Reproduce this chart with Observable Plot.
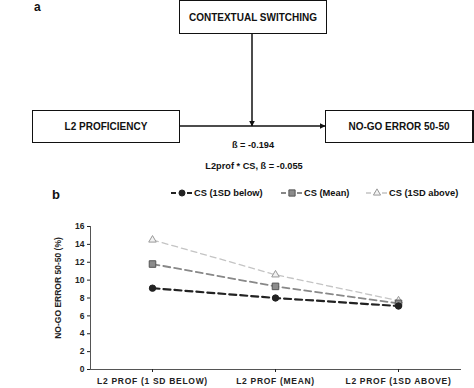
<!DOCTYPE html>
<html><head><meta charset="utf-8">
<script src="https://cdn.jsdelivr.net/npm/d3@7"></script>
<script src="https://cdn.jsdelivr.net/npm/@observablehq/plot@0.6"></script>
<style>
body{margin:0;background:#fff;font-family:"Liberation Sans",Arial,sans-serif;}
#wrap{position:relative;width:474px;height:388px;overflow:hidden;background:#fff;}
.box{position:absolute;box-sizing:border-box;border:1.5px solid #111;display:flex;align-items:center;justify-content:center;font-weight:bold;font-size:10px;color:#111;}
.lbl{position:absolute;font-weight:bold;color:#111;white-space:nowrap;line-height:1;}
.ctr{transform:translateX(-50%);}
.leg{position:absolute;top:186px;display:flex;align-items:center;height:13px;font-weight:bold;font-size:9.3px;color:#111;white-space:nowrap;}
.leg svg{margin-right:1px;}
#chart{position:absolute;left:0;top:200px;}
#chart g[aria-label="x-axis tick label"] text{letter-spacing:0.7px;}
</style>
</head><body>
<div id="wrap">
  <div class="lbl" style="left:34px;top:1px;font-size:12px;">a</div>
  <div class="box" style="left:179px;top:-1px;width:148px;height:35px;border-top-width:2.5px;">CONTEXTUAL SWITCHING</div>
  <div class="box" style="left:32px;top:110px;width:148px;height:33px;">L2 PROFICIENCY</div>
  <div class="box" style="left:325px;top:110px;width:149px;height:33px;border-right-width:2.5px;">NO-GO ERROR 50-50</div>
  <svg style="position:absolute;left:0;top:0" width="474" height="190">
    <defs>
      <marker id="ah" viewBox="0 0 10 10" refX="9" refY="5" markerWidth="4" markerHeight="4" orient="auto">
        <path d="M0,0 L10,5 L0,10 z" fill="#111"/>
      </marker>
    </defs>
    <line x1="180" y1="126" x2="325" y2="126" stroke="#111" stroke-width="1.5" marker-end="url(#ah)"/>
    <line x1="252" y1="34" x2="252" y2="126" stroke="#111" stroke-width="1.5" marker-end="url(#ah)"/>
  </svg>
  <div class="lbl ctr" style="left:253px;top:141px;font-size:9.2px;">ß = -0.194</div>
  <div class="lbl ctr" style="left:254px;top:162px;font-size:9.2px;">L2prof * CS, ß = -0.055</div>
  <div class="lbl" style="left:52px;top:188px;font-size:13px;">b</div>
  <div id="legend"></div>
  <div id="chart"></div>
</div>
<script>
const categories = ["L2 PROF (1 SD BELOW)", "L2 PROF (MEAN)", "L2 PROF (1SD ABOVE)"];
const seriesNames = ["CS (1SD below)", "CS (Mean)", "CS (1SD above)"];
const csBelow = [9.1, 8.0, 7.1];
const csMean = [11.8, 9.3, 7.4];
const csAbove = [14.5, 10.6, 7.7];
const yTicks = [0, 2, 4, 6, 8, 10, 12, 14, 16];
const yLabel = "NO-GO ERROR 50-50 (%)";

const styles = [
  {line: "#222", width: 2.2, dash: "7,4", symbol: "circle", fill: "#222", stroke: "#222", r: 3.2},
  {line: "#888", width: 1.8, dash: "7,4", symbol: "square", fill: "#8c8c8c", stroke: "#555", r: 3.7},
  {line: "#c4c4c4", width: 1.3, dash: "6,4", symbol: "triangle", fill: "#f2f2f2", stroke: "#999", r: 2.8}
];
const seriesValues = [csBelow, csMean, csAbove];
const rows = seriesValues.map((vals, s) => categories.map((c, i) => ({cat: c, series: seriesNames[s], value: vals[i]})));

const marks = [
  Plot.frame({anchor: "left", stroke: "#555", strokeWidth: 1}),
  Plot.frame({anchor: "bottom", stroke: "#555", strokeWidth: 1}),
  Plot.axisY({ticks: yTicks, tickSize: 3, tickPadding: 3, label: null, fontWeight: "bold"}),
  Plot.axisX({tickSize: 3, tickPadding: 5, label: null, fontWeight: "bold"}),
  Plot.text([yLabel], {text: d => d, frameAnchor: "left", rotate: -90, dx: -32, dy: -10, fontWeight: "bold", fontSize: 8.5, fill: "#222", textAnchor: "middle", lineAnchor: "middle"})
];
[2, 1, 0].forEach(s => {
  const st = styles[s];
  marks.push(Plot.line(rows[s], {x: "cat", y: "value", stroke: st.line, strokeWidth: st.width, strokeDasharray: st.dash}));
});
[2, 1, 0].forEach(s => {
  const st = styles[s];
  marks.push(Plot.dot(rows[s], {x: "cat", y: "value", symbol: st.symbol, r: st.r, fill: st.fill, stroke: st.stroke, strokeWidth: 1}));
});

const chart = Plot.plot({
  width: 474, height: 188,
  marginTop: 26, marginBottom: 19, marginLeft: 90, marginRight: 14,
  x: {type: "point", domain: categories, padding: 0.5},
  y: {domain: [0, 16]},
  style: {fontFamily: '"Liberation Sans", Arial, sans-serif', fontSize: "8.5px", color: "#222", background: "transparent", overflow: "visible"},
  marks
});
document.getElementById("chart").appendChild(chart);

const legendLeft = [171, 281, 366];
const legend = document.getElementById("legend");
seriesNames.forEach((name, s) => {
  const st = styles[s];
  const div = document.createElement("div");
  div.className = "leg";
  div.style.left = legendLeft[s] + "px";
  const svg = d3.create("svg").attr("width", 22).attr("height", 12);
  svg.append("line").attr("x1", 0).attr("x2", 22).attr("y1", 6).attr("y2", 6)
    .attr("stroke", st.line).attr("stroke-width", st.width).attr("stroke-dasharray", "5,3");
  svg.append("path").attr("transform", "translate(11,6)")
    .attr("d", d3.symbol(st.symbol === "circle" ? d3.symbolCircle : st.symbol === "square" ? d3.symbolSquare : d3.symbolTriangle, Math.PI * st.r * st.r * 0.9)())
    .attr("fill", st.fill).attr("stroke", st.stroke);
  div.appendChild(svg.node());
  const span = document.createElement("span");
  span.textContent = name;
  div.appendChild(span);
  legend.appendChild(div);
});
</script>
</body></html>
